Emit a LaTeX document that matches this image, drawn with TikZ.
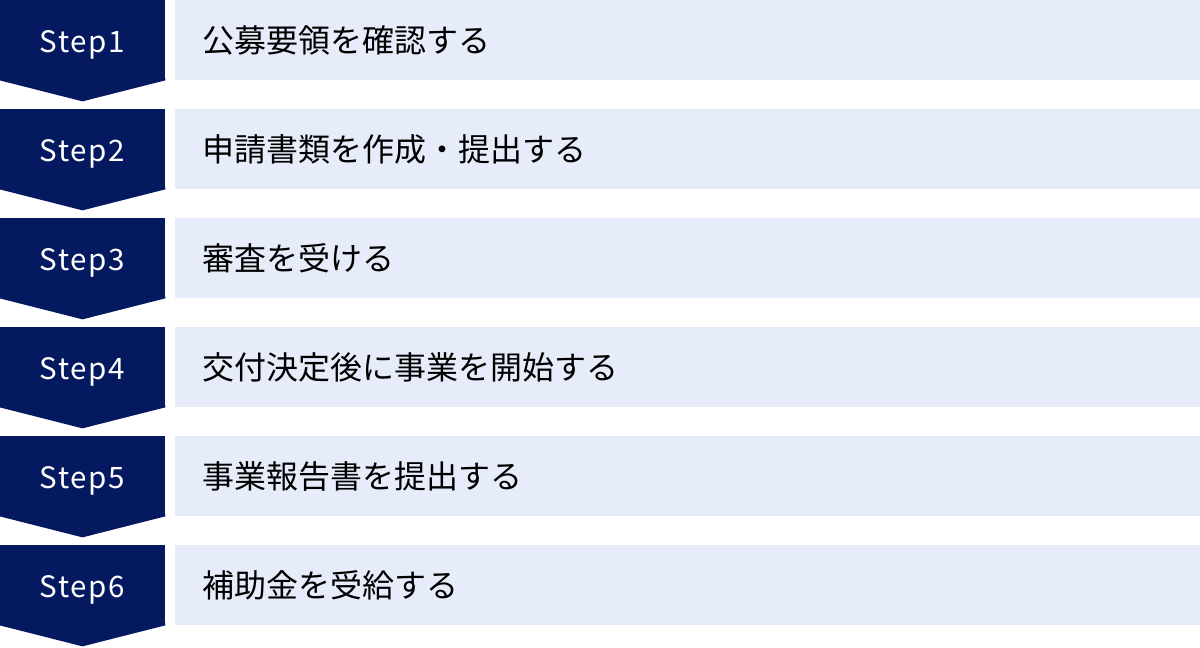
\documentclass[tikz,border=0pt]{standalone}
\usepackage{fontspec}
\setmainfont{Noto Sans CJK JP}
\usetikzlibrary{positioning}
\definecolor{stepnavy}{HTML}{051960}
\definecolor{barblue}{HTML}{E6ECF9}

\begin{document}
\begin{tikzpicture}
    [x=0.02cm,y=-0.02cm,
     stepbox/.style={fill=stepnavy,text=white,inner sep=0,
       minimum width=3.3cm,minimum height=1.6cm,text height=0.5cm,text depth=0,
       font=\fontsize{16.8}{20}\selectfont\addfontfeature{LetterSpace=6}},
     barbox/.style={fill=barblue,inner xsep=0.56cm,inner ysep=0,text width=19.4cm,
       minimum height=1.6cm,align=left,font=\fontsize{18.2}{22}\selectfont}]
    \useasboundingbox (0,0) rectangle (1200,647);
    \foreach \i/\txt in {1/公募要領を確認する,2/申請書類を作成・提出する,3/審査を受ける,
        4/交付決定後に事業を開始する,5/事業報告書を提出する,6/補助金を受給する} {
      \node[stepbox] (s\i) at (82.5,{40+109*(\i-1)}) {Step\i};
      \fill[stepnavy] ([yshift=0.04cm]s\i.south west) -- ([yshift=0.04cm]s\i.south east)
        -- (s\i.south east) -- ([yshift=-0.42cm]s\i.south) -- (s\i.south west) -- cycle;
      \node[barbox,right=0.18cm of s\i] (b\i) {\txt};
    }
\end{tikzpicture}
\end{document}
